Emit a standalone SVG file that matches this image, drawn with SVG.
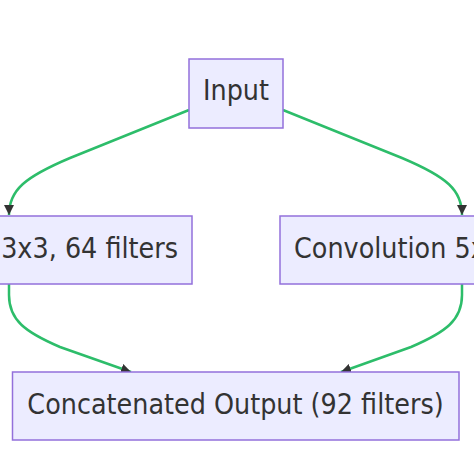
<svg xmlns="http://www.w3.org/2000/svg" width="474" height="474" viewBox="0 0 474 474">
<defs>
<style>
.node rect{fill:#ECECFF;stroke:#9370DB;stroke-width:1.5;}
.node text{font-family:"DejaVu Sans",Verdana,sans-serif;font-size:25.5px;fill:#333333;}
.edge{fill:none;stroke:#2dbd6a;stroke-width:2.5;marker-end:url(#arrow);}
</style>
<marker id="arrow" viewBox="0 0 10 10" refX="10" refY="5" markerUnits="userSpaceOnUse" markerWidth="10" markerHeight="10" orient="auto">
<path d="M0,0 L10,5 L0,10 z" fill="#333333"/>
</marker>
</defs>
<rect width="474" height="474" fill="#ffffff"/>
<g id="connectors">
<path class="edge" d="M189,110 L70,158 C25,177 9,190 9,215"/>
<path class="edge" d="M283,110 L402,158 C447,177 462,190 462,215"/>
<path class="edge" d="M9,284 L9,295 C9,320 25,332 60,347 L131,372"/>
<path class="edge" d="M462,284 L462,295 C462,320 446,332 411,347 L341,372"/>
</g>
<g id="input" class="node">
<rect x="189" y="59" width="94" height="69"/>
<text transform="translate(236,100) scale(1,1.1)" text-anchor="middle">Input</text>
</g>
<g id="conv3" class="node">
<rect x="-60" y="216" width="252" height="68"/>
<text transform="translate(178,258) scale(1,1.1)" text-anchor="end">3x3, 64 filters</text>
</g>
<g id="conv5" class="node">
<rect x="280" y="216" width="260" height="68"/>
<text transform="translate(294,258) scale(1,1.1)">Convolution 5x</text>
</g>
<g id="output" class="node">
<rect x="12.5" y="372" width="446.5" height="68"/>
<text transform="translate(235.5,414) scale(1,1.1)" text-anchor="middle">Concatenated Output (92 filters)</text>
</g>
</svg>
